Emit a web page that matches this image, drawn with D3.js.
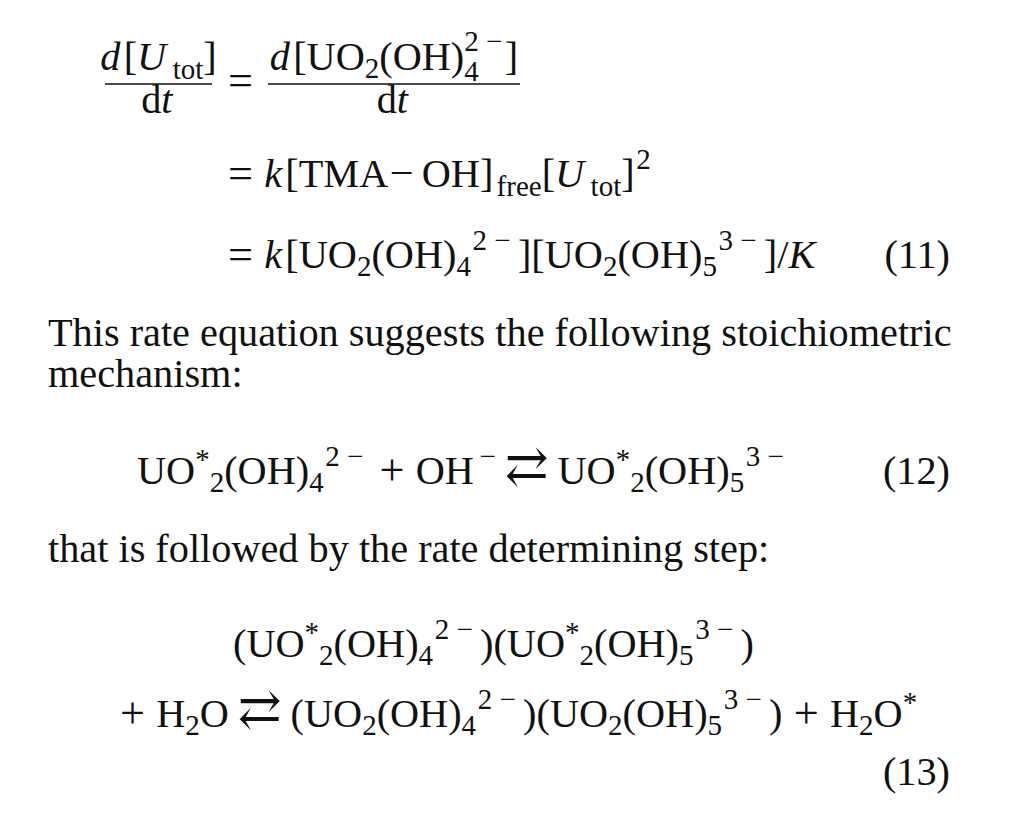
<!DOCTYPE html>
<html>
<head>
<meta charset="utf-8">
<script src="https://cdn.jsdelivr.net/npm/d3@7"></script>
<style>
  body { margin: 0; background: #fff; }
  svg text { font-family: "Liberation Serif", "Times New Roman", "DejaVu Serif", serif; fill: #111; }
</style>
</head>
<body>
<svg id="page" width="1024" height="834"></svg>
<script>
// text pieces: [text, kind]
const fracLeftNum = [['d', 'i'], ['['], ['U', 'i'], ['tot', 'subi'], [']']];
const fracLeftDen = [['d'], ['t', 'i']];
const fracRightNum = [['d', 'i'], ['[UO'], ['2', 'sub'], ['(OH)'], [['2 −', '4'], 'stack'], [']', 'gap']];
const fracRightDen = [['d'], ['t', 'i']];
const rateLine2 = [['=', 'op'], ['k', 'i'], ['[TMA'], ['−', 'bin'], ['OH]'], ['free', 'subi'], ['['], ['U', 'i'], ['tot', 'subi'], [']'], ['2', 'sup']];
const rateLine3 = [['=', 'op'], ['k', 'i'], ['[UO'], ['2', 'sub'], ['(OH)'], ['4', 'sub'], ['2 −', 'sup'], [']', 'gap'], ['[UO'], ['2', 'sub'], ['(OH)'], ['5', 'sub'], ['3 −', 'sup'], [']/', 'gap'], ['K', 'i']];
const eq12 = [['UO'], ['*', 'star'], ['2', 'sub'], ['(OH)'], ['4', 'sub'], ['2 −', 'sup'], ['+', 'op'], ['OH'], ['−', 'supg'], ['⇄', 'arrow'], ['UO'], ['*', 'star'], ['2', 'sub'], ['(OH)'], ['5', 'sub'], ['3 −', 'sup']];
const eq13a = [['(UO'], ['*', 'star'], ['2', 'sub'], ['(OH)'], ['4', 'sub'], ['2 −', 'sup'], [')', 'gap'], ['(UO'], ['*', 'star'], ['2', 'sub'], ['(OH)'], ['5', 'sub'], ['3 −', 'sup'], [')', 'gap']];
const eq13b = [['+', 'opl'], ['H'], ['2', 'sub'], ['O'], ['⇄', 'arrow'], ['(UO'], ['2', 'sub'], ['(OH)'], ['4', 'sub'], ['2 −', 'sup'], [')', 'gap'], ['(UO'], ['2', 'sub'], ['(OH)'], ['5', 'sub'], ['3 −', 'sup'], [')', 'gap'], ['+', 'op'], ['H'], ['2', 'sub'], ['O'], ['*', 'star']];
const prose = ['This rate equation suggests the following stoichiometric', 'mechanism:', 'that is followed by the rate determining step:'];
const eqNumbers = ['(11)', '(12)', '(13)'];

const svg = d3.select('#page');

// fit the body size so the first prose line spans the column
const probe = svg.append('text').style('font-size', '100px').text(prose[0]);
const F = 100 * 904 / probe.node().getComputedTextLength();
probe.remove();

const kinds = {
  r:     { s: 1,    dy: 0,     l: 0,    r: 0 },
  i:     { s: 1,    dy: 0,     l: 0,    r: 0.08, it: true },
  op:    { s: 1.1,  dy: 0.02,  l: 0.28, r: 0.28 },
  opl:   { s: 1.1,  dy: 0.02,  l: 0,    r: 0.28 },
  bin:   { s: 1.05, dy: 0,     l: 0.04, r: 0.2 },
  arrow: { s: 1.3,  dy: -0.01, l: 0.22, r: 0.22 },
  gap:   { s: 1,    dy: 0,     l: 0.06, r: 0 },
  sub:   { s: 0.72, dy: 0.19,  l: 0,    r: 0 },
  subi:  { s: 0.72, dy: 0.22,  l: 0.08, r: 0 },
  sup:   { s: 0.72, dy: -0.44, l: 0.04, r: 0.12 },
  supg:  { s: 0.72, dy: -0.44, l: 0.14, r: 0 },
  star:  { s: 0.72, dy: -0.38, l: 0,    r: 0 }
};

function piece(g, t, k, x, y) {
  const st = kinds[k];
  const el = g.append('text')
    .attr('x', x)
    .attr('y', y + st.dy * F)
    .style('font-size', (st.s * F) + 'px')
    .style('font-style', st.it ? 'italic' : 'normal')
    .text(t);
  return el.node().getComputedTextLength();
}

function place(g, segs, x0, y0) {
  let x = x0;
  segs.forEach(([t, k = 'r']) => {
    if (k === 'stack') {
      const wUp = piece(g, t[0], 'sup', x, y0 - 0.02 * F);
      const wDn = piece(g, t[1], 'sub', x, y0 + 0.08 * F);
      x += Math.max(wUp, wDn);
      return;
    }
    const st = kinds[k];
    x += st.l * F;
    x += piece(g, t, k, x, y0) + st.r * F;
  });
  return x;
}

function centred(segs, cx, y) {
  const g = svg.append('g');
  const w = place(g, segs, 0, y);
  g.attr('transform', `translate(${cx - w / 2},0)`);
}

function fraction(num, den, x0, x1, yBar) {
  const cx = (x0 + x1) / 2;
  centred(num, cx, yBar - 14);
  centred(den, cx, yBar + 29);
  svg.append('line')
    .attr('x1', x0).attr('x2', x1)
    .attr('y1', yBar).attr('y2', yBar)
    .attr('stroke', '#111').attr('stroke-width', 1.6);
}

// rate law, eq. (11)
fraction(fracLeftNum, fracLeftDen, 105, 212, 84);
place(svg.append('g'), [['=', 'opl']], 228, 94);
fraction(fracRightNum, fracRightDen, 268, 520, 84);
place(svg.append('g'), rateLine2, 228 - 0.28 * F, 187);
place(svg.append('g'), rateLine3, 228 - 0.28 * F, 268);

// prose
const proseY = [346, 387, 562];
svg.append('g').selectAll('text')
  .data(prose)
  .join('text')
  .attr('x', 48)
  .attr('y', (d, i) => proseY[i])
  .style('font-size', F + 'px')
  .text(d => d);

// eq. (12) and (13)
place(svg.append('g'), eq12, 137, 484);
place(svg.append('g'), eq13a, 233, 657);
place(svg.append('g'), eq13b, 120, 727);

const numY = [268, 484, 785];
svg.append('g').selectAll('text')
  .data(eqNumbers)
  .join('text')
  .attr('x', 950)
  .attr('y', (d, i) => numY[i])
  .attr('text-anchor', 'end')
  .style('font-size', F + 'px')
  .text(d => d);
</script>
</body>
</html>
